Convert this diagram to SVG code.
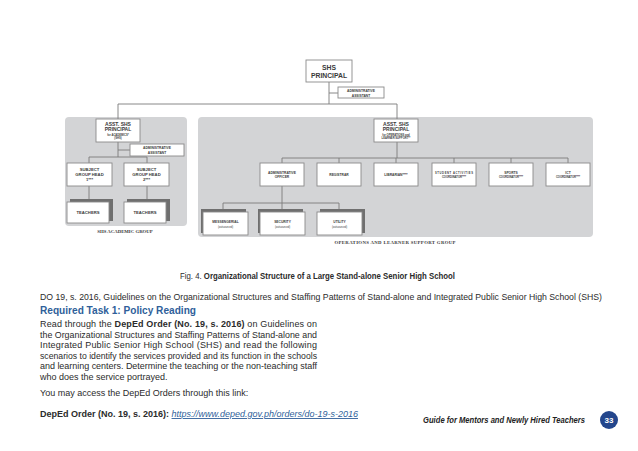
<svg xmlns="http://www.w3.org/2000/svg" width="638" height="451" viewBox="0 0 638 451">
<style>
.bg{fill:#d3d4d6}
.box{fill:#fff;stroke:#8a8a8a;stroke-width:0.9}
.sh{fill:#6f6f6f}
.ln{fill:none;stroke:#7a7a7a;stroke-width:0.9}
.t{font-family:"Liberation Sans",Arial,sans-serif;font-weight:bold;fill:#3a3a3a;text-anchor:middle}
.tb{font-size:6.8px}
.tm{font-size:5px}
.ts{font-size:4.2px}
.tr{font-size:3.3px}
.tx{font-size:2.7px}
.grp{font-family:"Liberation Serif",serif;font-weight:bold;font-size:4.8px;fill:#3a3a3a;text-anchor:middle}
.body{font-family:"Liberation Sans",Arial,sans-serif;font-size:9px;fill:#2b2b2b}
</style>
<rect width="638" height="451" fill="#fff"/>
<rect class="bg" x="65" y="117" width="122" height="109" rx="4"/>
<rect class="bg" x="198" y="117" width="395" height="120" rx="4"/>
<text class="grp" x="125" y="233">SHS ACADEMIC GROUP</text>
<text class="grp" x="395" y="244" textLength="121">OPERATIONS AND LEARNER SUPPORT GROUP</text>
<g id="connectors">
<path class="ln" d="M329 82V104M118 104H397M118 104V119M397 104V119M329 93H338"/>
<path class="ln" d="M118 142V157M118 150H130M89 157H147M89 157V163M147 157V163M89 186V200M147 186V200"/>
<path class="ln" d="M397 142V158M282 158H568M282 158V163M339 158V163M396 158V163M454 158V163M511 158V163M568 158V163"/>
<path class="ln" d="M282 186V203M223 203H339M223 203V210M282 203V210M339 203V210"/>
</g>
<g id="principal"><rect class="box" x="306" y="60" width="46" height="22"/><text class="t tb" x="329" y="70">SHS</text><text class="t tb" x="329" y="78">PRINCIPAL</text></g>
<g id="admin-asst"><rect class="box" x="338" y="87" width="46" height="11"/><text class="t tr" x="361" y="92">ADMINISTRATIVE</text><text class="t tr" x="361" y="96.5">ASSISTANT</text></g>
<g id="asst-acad"><rect class="box" x="96" y="119" width="44" height="23"/><text class="t tm" x="118" y="125.5">ASST. SHS</text><text class="t tm" x="118" y="131">PRINCIPAL</text><text class="t tx" x="118" y="135.5">for ACADEMICS*</text><text class="t tx" x="118" y="139">(SHS)</text></g>
<g id="acad-admin"><rect class="box" x="130" y="144" width="54" height="12"/><text class="t tr" x="157" y="149.3">ADMINISTRATIVE</text><text class="t tr" x="157" y="154">ASSISTANT</text></g>
<g id="sgh1"><rect class="box" x="67" y="163" width="45" height="23"/><text class="t ts" x="89.5" y="171">SUBJECT</text><text class="t ts" x="89.5" y="176">GROUP HEAD</text><text class="t ts" x="89.5" y="181">1***</text></g>
<g id="sgh2"><rect class="box" x="124" y="163" width="45" height="23"/><text class="t ts" x="146.5" y="171">SUBJECT</text><text class="t ts" x="146.5" y="176">GROUP HEAD</text><text class="t ts" x="146.5" y="181">2***</text></g>
<g id="teachers1"><rect class="sh" x="70" y="199" width="43" height="22"/><rect class="box" x="67" y="202" width="42" height="21"/><text class="t ts" x="88" y="214">TEACHERS</text></g>
<g id="teachers2"><rect class="sh" x="127" y="199" width="43" height="22"/><rect class="box" x="124" y="202" width="42" height="21"/><text class="t ts" x="145" y="214">TEACHERS</text></g>
<g id="asst-ops"><rect class="box" x="374" y="119" width="44" height="23"/><text class="t tm" x="396" y="125.5">ASST. SHS</text><text class="t tm" x="396" y="131">PRINCIPAL</text><text class="t tx" x="396" y="135.5">for OPERATIONS and</text><text class="t tx" x="396" y="139">LEARNER SUPPORT**</text></g>
<g id="admin-officer"><rect class="box" x="260" y="163" width="44" height="23"/><text class="t tr" x="282" y="173.5">ADMINISTRATIVE</text><text class="t tr" x="282" y="178">OFFICER</text></g>
<g id="registrar"><rect class="box" x="317" y="163" width="44" height="23"/><text class="t tr" x="339" y="175.5">REGISTRAR</text></g>
<g id="librarian"><rect class="box" x="374" y="163" width="44" height="23"/><text class="t tr" x="396" y="175.5">LIBRARIAN****</text></g>
<g id="student-act"><rect class="box" x="432" y="163" width="44" height="23"/><text class="t tx" x="454" y="173.5" textLength="38">STUDENT ACTIVITIES</text><text class="t tx" x="454" y="178">COORDINATOR****</text></g>
<g id="sports"><rect class="box" x="489" y="163" width="44" height="23"/><text class="t tr" x="511" y="173.5">SPORTS</text><text class="t tx" x="511" y="178">COORDINATOR****</text></g>
<g id="ict"><rect class="box" x="546" y="163" width="44" height="23"/><text class="t tr" x="568" y="173.5">ICT</text><text class="t tx" x="568" y="178">COORDINATOR****</text></g>
<g id="messengerial"><rect class="sh" x="201" y="209" width="45" height="24"/><rect class="box" x="203" y="212" width="45" height="23"/><text class="t tr" x="225.5" y="223">MESSENGERIAL</text><text class="t tx" x="225.5" y="227.5" style="font-weight:normal">(outsourced)</text></g>
<g id="security"><rect class="sh" x="258" y="209" width="45" height="24"/><rect class="box" x="260" y="212" width="45" height="23"/><text class="t tr" x="282.5" y="223">SECURITY</text><text class="t tx" x="282.5" y="227.5" style="font-weight:normal">(outsourced)</text></g>
<g id="utility"><rect class="sh" x="320" y="209" width="45" height="24"/><rect class="box" x="317" y="212" width="45" height="23"/><text class="t tr" x="339.5" y="223">UTILITY</text><text class="t tx" x="339.5" y="227.5" style="font-weight:normal">(outsourced)</text></g>
<text class="body" transform="translate(180 279) scale(0.868 1)">Fig. 4. <tspan font-weight="bold">Organizational Structure of a Large Stand-alone Senior High School</tspan></text>
<text class="body" x="40" y="300" textLength="562" lengthAdjust="spacingAndGlyphs">DO 19, s. 2016, Guidelines on the Organizational Structures and Staffing Patterns of Stand-alone and Integrated Public Senior High School (SHS)</text>
<text class="body" x="40" y="314" textLength="156" lengthAdjust="spacingAndGlyphs" style="font-size:10px;font-weight:bold;fill:#2f5f9a">Required Task 1: Policy Reading</text>
<text class="body" x="40" y="327" textLength="277" lengthAdjust="spacing">Read through the <tspan font-weight="bold">DepEd Order (No. 19, s. 2016)</tspan> on Guidelines on</text>
<text class="body" x="40" y="337.5" textLength="277" lengthAdjust="spacingAndGlyphs">the Organizational Structures and Staffing Patterns of Stand-alone and</text>
<text class="body" x="40" y="348" textLength="277" lengthAdjust="spacing">Integrated Public Senior High School (SHS) and read the following</text>
<text class="body" x="40" y="358.5" textLength="277" lengthAdjust="spacingAndGlyphs">scenarios to identify the services provided and its function in the schools</text>
<text class="body" x="40" y="369" textLength="277" lengthAdjust="spacing">and learning centers. Determine the teaching or the non-teaching staff</text>
<text class="body" x="40" y="379.5">who does the service portrayed.</text>
<text class="body" x="40" y="396">You may access the DepEd Orders through this link:</text>
<text class="body" x="40" y="417" font-weight="bold">DepEd Order (No. 19, s. 2016): <tspan font-weight="normal" font-style="italic" fill="#2f5f9a" text-decoration="underline">https://www.deped.gov.ph/orders/do-19-s-2016</tspan></text>
<text class="body" transform="translate(585 423) scale(0.845 1)" text-anchor="end" style="font-weight:bold;font-style:italic;fill:#222">Guide for Mentors and Newly Hired Teachers</text>
<circle cx="609" cy="420" r="9" fill="#23468c"/>
<text x="609" y="423" text-anchor="middle" style="font-family:'Liberation Sans',Arial,sans-serif;font-weight:bold;font-size:8px;fill:#fff">33</text>
</svg>
